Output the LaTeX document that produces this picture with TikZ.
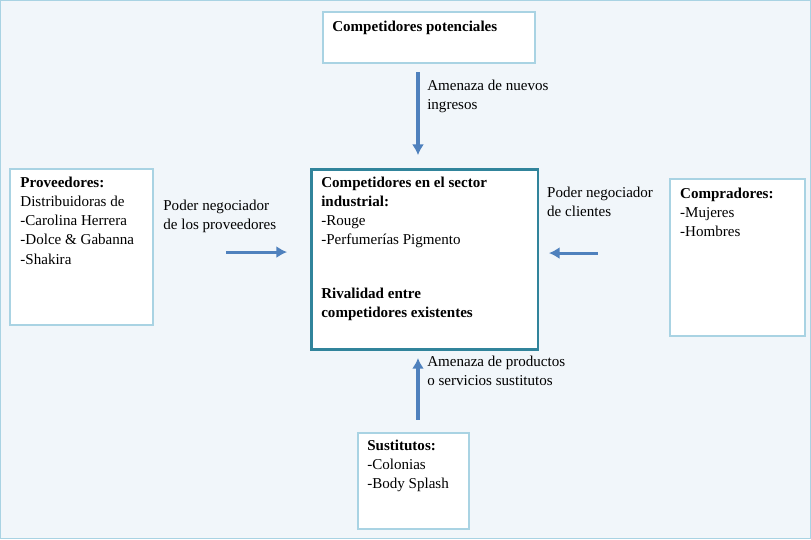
\documentclass[tikz,border=0pt]{standalone}
\usepackage{fontspec}
\setmainfont{Liberation Serif}
\usetikzlibrary{arrows.meta}
\begin{document}
\begin{tikzpicture}[x=0.75pt,y=-0.75pt,
  box/.style={draw=boxb,line width=1.5pt,fill=white,anchor=north west,inner sep=0pt},
  txt/.style={anchor=north west,align=left,font=\fontsize{11.3}{14.3}\selectfont,inner sep=0pt},
  arr/.style={draw=arrc,line width=2.3pt,-{Latex[length=8pt,width=9pt]}}]
\definecolor{boxb}{HTML}{A9D3E3}
\definecolor{cenb}{HTML}{31849B}
\definecolor{arrc}{HTML}{4F81BD}
\definecolor{bg}{HTML}{F1F6FA}
\path[fill=bg,draw=boxb,line width=1pt] (0.5,0.5) rectangle (810.5,538.5);
\useasboundingbox (0,0) rectangle (811,539);
\node[box,minimum width=159pt,minimum height=38pt] (top) at (322,11) {};
\node[txt,font=\bfseries\fontsize{11.3}{14.3}\selectfont] (toptx) at (332,21) {Competidores potenciales};
\node[box,minimum width=107pt,minimum height=117pt] (prov) at (9,168) {};
\node[txt] (provtx) at (20,177) {\textbf{Proveedores:}\\Distribuidoras de\\-Carolina Herrera\\-Dolce \& Gabanna\\-Shakira};
\node[box,draw=cenb,line width=2pt,minimum width=170pt,minimum height=135pt] (cen) at (310,168) {};
\node[txt] (centx) at (321,177) {\textbf{Competidores en el sector}\\\textbf{industrial:}\\-Rouge\\-Perfumerías Pigmento\\[26pt]\textbf{Rivalidad entre}\\\textbf{competidores existentes}};
\node[box,minimum width=101pt,minimum height=118pt] (comp) at (669,178) {};
\node[txt] (comptx) at (680,188) {\textbf{Compradores:}\\-Mujeres\\-Hombres};
\node[box,minimum width=83pt,minimum height=72pt] (sus) at (357,432) {};
\node[txt] (sustx) at (367,440) {\textbf{Sustitutos:}\\-Colonias\\-Body Splash};
\coordinate (a1) at (418,72); \coordinate (b1) at (418,155);
\coordinate (a2) at (226,252); \coordinate (b2) at (287,252);
\coordinate (a3) at (598,253); \coordinate (b3) at (549,253);
\coordinate (a4) at (418,420); \coordinate (b4) at (418,358);
\draw[arr] (a1) -- (b1);
\draw[arr] (a2) -- (b2);
\draw[arr] (a3) -- (b3);
\draw[arr] (a4) -- (b4);
\node[txt] (l1) at (427,80) {Amenaza de nuevos\\ingresos};
\node[txt] (l2) at (163,200) {Poder negociador\\de los proveedores};
\node[txt] (l3) at (547,187) {Poder negociador\\de clientes};
\node[txt] (l4) at (427,356) {Amenaza de productos\\o servicios sustitutos};
\end{tikzpicture}
\end{document}
